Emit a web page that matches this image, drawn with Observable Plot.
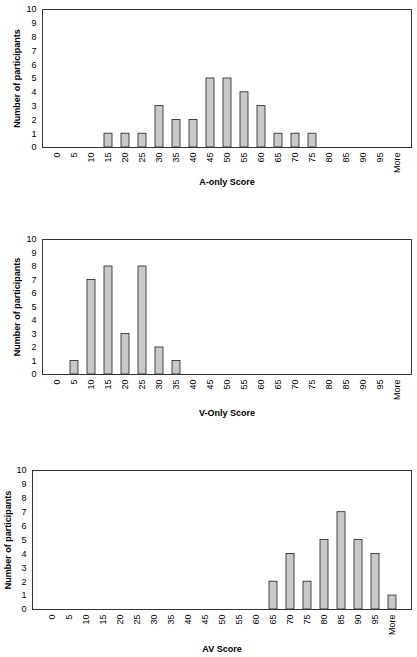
<!DOCTYPE html>
<html><head><meta charset="utf-8">
<script src="https://cdn.jsdelivr.net/npm/d3@7"></script>
<script src="https://cdn.jsdelivr.net/npm/@observablehq/plot@0.6"></script>
<style>
body{margin:0;background:#fff;font-family:"Liberation Sans",Arial,sans-serif;}
#wrap{position:relative;width:417px;height:657px;}
#wrap > div{position:absolute;left:0;}
</style></head>
<body><div id="wrap"><div id="p1" style="top:0"></div><div id="p2" style="top:225px"></div><div id="p3" style="top:450px"></div></div>
<script>
const bins = ["0","5","10","15","20","25","30","35","40","45","50","55","60","65","70","75","80","85","90","95","More"];
const aOnly = [0,0,0,1,1,1,3,2,2,5,5,4,3,1,1,1,0,0,0,0,0];
const vOnly = [0,1,7,8,3,8,2,1,0,0,0,0,0,0,0,0,0,0,0,0,0];
const avScore = [0,0,0,0,0,0,0,0,0,0,0,0,0,2,4,2,5,7,5,4,1];
const yTicks = [0,1,2,3,4,5,6,7,8,9,10];
const yTitle = "Number of participants";

function panel(values, xTitle, o){
  const data = bins.map((b,i)=>({bin:b, n:values[i]}));
  return Plot.plot({
    width:417, height:o.height,
    marginTop:o.mt, marginBottom:o.mb, marginLeft:o.ml, marginRight:6,
    style:{fontFamily:'"Liberation Sans",Arial,sans-serif', fontSize:"9px", color:"#000", background:"#fff"},
    x:{domain:bins, padding:0.55, label:null},
    y:{domain:[0,10], label:null},
    marks:[
      Plot.barY(data,{x:"bin", y:"n", fill:"#c8c8c8", stroke:"#222", strokeWidth:0.8}),
      Plot.frame({stroke:"#333", strokeWidth:1}),
      Plot.axisX({tickRotate:-90, tickSize:0, tickPadding:5, label:null}),
      Plot.axisY({ticks:yTicks, tickSize:0, tickPadding:6, tickFormat:d3.format("d"), label:null}),
      Plot.text([xTitle],{frameAnchor:"bottom", dy:o.xdy, fontWeight:"bold", fontSize:9}),
      Plot.text([yTitle],{frameAnchor:"left", textAnchor:"middle", dx:-o.ydx, rotate:-90, fontWeight:"bold", fontSize:9})
    ]
  });
}
document.getElementById("p1").append(panel(aOnly,"A-only Score",{height:200, mt:9, mb:53, ml:42, xdy:37, ydx:25}));
document.getElementById("p2").append(panel(vOnly,"V-Only Score",{height:200, mt:14, mb:51, ml:42, xdy:41, ydx:25}));
document.getElementById("p3").append(panel(avScore,"AV Score",{height:207, mt:20, mb:48, ml:32, xdy:42, ydx:24}));
</script></body></html>
